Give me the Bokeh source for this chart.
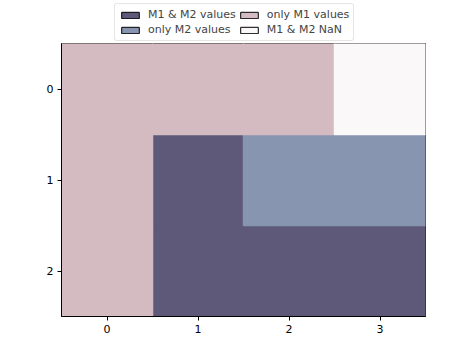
from bokeh.plotting import figure
from bokeh.models import Range1d, Legend, LegendItem, FixedTicker, ColumnDataSource
from bokeh.layouts import column
from bokeh.embed import file_html
from bokeh.resources import INLINE

# Grid status per cell (row, col)
rows = [0, 0, 0, 0, 1, 1, 1, 1, 2, 2, 2, 2]
cols = [0, 1, 2, 3, 0, 1, 2, 3, 0, 1, 2, 3]
status = ["only M1", "only M1", "only M1", "NaN",
          "only M1", "both", "only M2", "only M2",
          "only M1", "both", "both", "both"]

categories = ["both", "only M2", "only M1", "NaN"]
labels = ["M1 & M2 values", "only M2 values", "only M1 values", "M1 & M2 NaN"]
colors = ["#5e5978", "#8795b0", "#d4bbc2", "#fbf8f9"]
x_ticks = [0, 1, 2, 3]
y_ticks = [0, 1, 2]

FONT = "DejaVu Sans"

p = figure(width=474, height=312, output_backend="svg", toolbar_location=None,
           x_range=Range1d(-0.5, 3.5), y_range=Range1d(2.5, -0.5),
           min_border_left=61, min_border_right=49, min_border_top=0, min_border_bottom=39)
p.background_fill_color = "white"
p.border_fill_color = "white"
p.grid.visible = False
p.outline_line_color = "black"
p.outline_line_width = 1

# legend strip above the plot: continues the y scale above the image (no cells there)
lg = figure(width=474, height=43, output_backend="svg", toolbar_location=None,
            x_range=p.x_range, y_range=Range1d(-0.6, -1.1),
            x_axis_location=None, y_axis_location=None,
            min_border_left=61, min_border_right=49, min_border_top=0, min_border_bottom=0)
lg.grid.visible = False
lg.outline_line_color = None
lg.background_fill_color = "white"
lg.border_fill_color = "white"

items = []
for cat, lab, col in zip(categories, labels, colors):
    idx = [i for i, s in enumerate(status) if s == cat]
    src = ColumnDataSource(dict(x=[cols[i] for i in idx], y=[rows[i] for i in idx]))
    p.rect(x="x", y="y", width=1, height=1, source=src, fill_color=col,
           line_color=col, line_width=1.5)
    # swatch renderer for the legend (its cells fall outside this strip's range)
    r = lg.rect(x="x", y="y", width=1, height=1, source=src,
                fill_color=col, line_color="black", line_width=1)
    items.append(LegendItem(label=lab, renderers=[r]))

for ax, ticks in ((p.xaxis, x_ticks), (p.yaxis, y_ticks)):
    ax.ticker = FixedTicker(ticks=ticks)
    ax.minor_tick_line_color = None
    ax.major_tick_in = 0
    ax.major_tick_out = 4
    ax.axis_line_color = "black"
    ax.major_tick_line_color = "black"
    ax.major_label_text_font = FONT
    ax.major_label_text_font_size = "11px"
    ax.major_label_text_color = "black"
    ax.major_label_standoff = 4

legend = Legend(items=items, ncols=2, location=(53, 2))
legend.label_text_font = FONT
legend.label_text_font_size = "11px"
legend.glyph_width = 22
legend.glyph_height = 8
legend.label_standoff = 7
legend.spacing = 2
legend.padding = 4
legend.margin = 0
legend.border_line_color = "#cccccc"
legend.border_line_width = 1
legend.border_radius = 3
legend.background_fill_alpha = 0.8
legend.label_height = 12
lg.add_layout(legend, "center")

open("out.html", "w").write(file_html(column(lg, p, spacing=0), INLINE))
